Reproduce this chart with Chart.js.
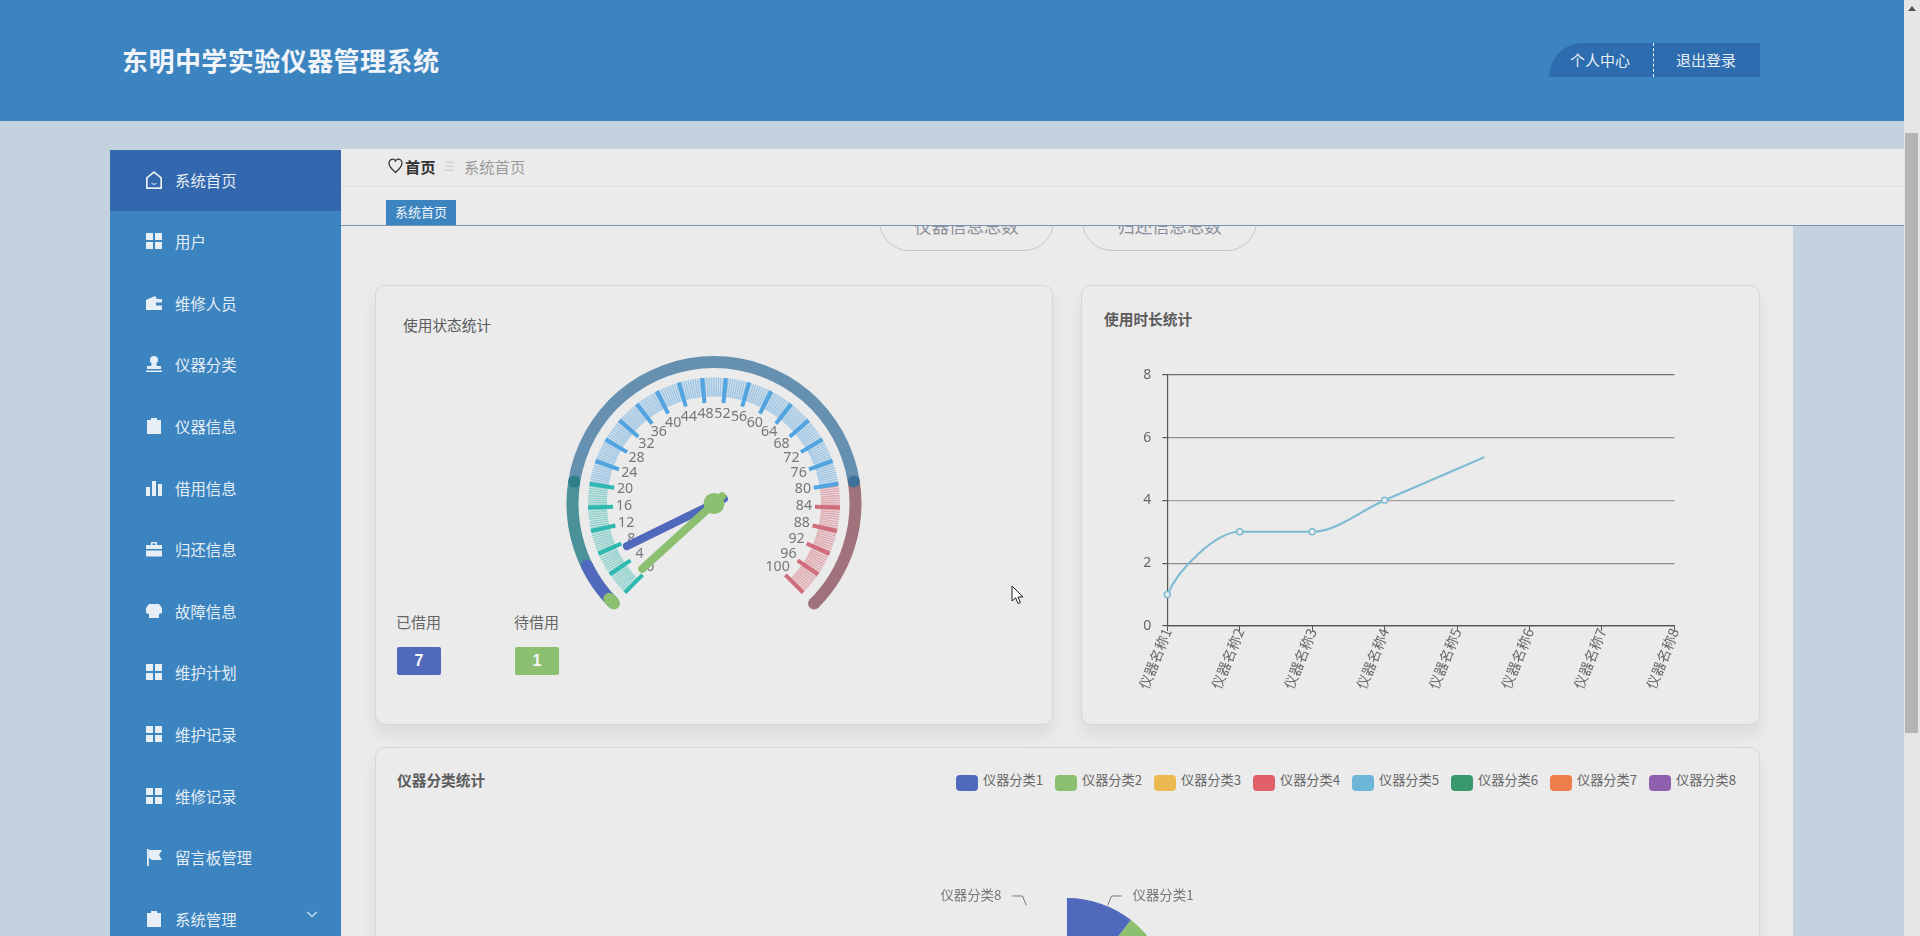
<!DOCTYPE html>
<html lang="zh-CN">
<head>
<meta charset="utf-8">
<title>东明中学实验仪器管理系统</title>
<script src="https://cdn.jsdelivr.net/npm/chart.js@4/dist/chart.umd.js"></script>
<style>
  * { box-sizing: border-box; }
  html, body { margin: 0; height: 100%; }
  body { width: 1920px; height: 936px; overflow: hidden; position: relative; background: #c4d2e0; font-family: "Noto Sans CJK SC", "Noto Sans", sans-serif; }
  .abs { position: absolute; }
  #header { left: 0; top: 0; width: 1904px; height: 121px; background: #3b84c0; }
  #siteTitle { left: 122px; top: 39px; line-height: 42px; font-size: 26px; font-weight: 700; letter-spacing: .45px; color: #f1f5f9; white-space: nowrap; }
  #userBar { left: 1549px; top: 43px; width: 211px; height: 34px; background: #2d6cae; border-top-left-radius: 34px; color: #e8f0f7; font-size: 15px; line-height: 34px; }
  #userBar span { position: absolute; top: 0; white-space: nowrap; }
  #userBar i { position: absolute; left: 104px; top: 0; height: 34px; border-left: 1px dashed #eef4fa; }
  #sidebar { left: 110px; top: 150px; width: 231px; height: 786px; background: #3b84c0; overflow: hidden; }
  .menuItem { position: absolute; left: 0; width: 231px; height: 61px; color: #e4edf5; font-size: 15.4px; line-height: 61px; }
  .menuItem.active { background: #3367ae; }
  .menuItem span { position: absolute; left: 65px; top: 0; white-space: nowrap; }
  .menuItem svg { position: absolute; left: 35px; top: 21px; width: 18px; height: 18px; fill: #e8eef5; }
  #topPanel { left: 341px; top: 149px; width: 1563px; height: 77px; background: #ebebeb; border-bottom: 1px solid #7a93b5; }
  #crumbLine { left: 0; top: 37px; width: 100%; border-top: 1px solid #dfdfdf; }
  .crumb { top: 5px; line-height: 24px; font-size: 15.3px; white-space: nowrap; }
  #tabHome { left: 45px; top: 51px; width: 70px; height: 25px; background: #3b84c0; color: #eef4f9; font-size: 13px; line-height: 24px; text-align: center; }
  #mainPanel { left: 341px; top: 226px; width: 1452px; height: 710px; background: #ebebeb; overflow: hidden; }
  .pill { top: -36px; width: 175px; height: 61px; border: 1.5px solid #c4c8cc; border-radius: 30px; color: #8a909a; font-size: 17.4px; line-height: 0; padding-top: 35px; text-align: center; white-space: nowrap; }
  .card { background: #ebebeb; border: 1px solid #d6d6d6; border-radius: 10px; box-shadow: 0 10px 16px rgba(0, 0, 0, .07); }
  .cardTitle { font-size: 14.7px; line-height: 20px; color: #5c5c5c; white-space: nowrap; }
  .statName { font-size: 15px; line-height: 20px; color: #666; white-space: nowrap; }
  .statBox { width: 44px; height: 28px; border-radius: 2px; color: #f4f6f8; font: 700 16px/27px "Liberation Sans", sans-serif; text-align: center; }
  .legendSwatch { top: 775px; width: 22px; height: 16px; border-radius: 4px; }
  .legendText { top: 770px; font-size: 13.2px; line-height: 20px; color: #666; white-space: nowrap; }
  canvas { position: absolute; display: block; }
  #scrollTrack { left: 1904px; top: 0; width: 16px; height: 936px; background: #e6e6e6; }
  #scrollThumb { left: 1905px; top: 133px; width: 13px; height: 600px; background: #b4b4b4; }
  #scrollArrow { left: 1908px; top: 6px; width: 0; height: 0; border: 4px solid transparent; border-bottom: 5px solid #555; border-top: 0; }
</style>
</head>
<body>
<div id="header" class="abs"></div>
<div id="siteTitle" class="abs">东明中学实验仪器管理系统</div>
<div id="userBar" class="abs"><span style="left:21px">个人中心</span><i></i><span style="left:127px">退出登录</span></div>

<div id="sidebar" class="abs"></div>

<div id="topPanel" class="abs">
  <div id="crumbLine" class="abs"></div>
  <svg class="abs" style="left:47px;top:9px" width="15" height="16" viewBox="0 0 15 16"><path d="M7.5 14.5 C3 10.5 1 8 1 5.2 C1 2.8 3 1.2 4.8 1.2 C6 1.2 7 1.9 7.5 3 C8 1.9 9 1.2 10.2 1.2 C12 1.2 14 2.8 14 5.2 C14 8 12 10.5 7.5 14.5 Z" fill="none" stroke="#333" stroke-width="1.3"/></svg>
  <div class="crumb abs" style="left:64px;color:#333;font-weight:700">首页</div>
  <div class="crumb abs" style="left:103px;color:#d0d0d0;font-size:12px">☰</div>
  <div class="crumb abs" style="left:123px;color:#9a9a9a">系统首页</div>
  <div id="tabHome" class="abs">系统首页</div>
</div>

<div id="mainPanel" class="abs">
  <div class="pill abs" style="left:538px">仪器信息总数</div>
  <div class="pill abs" style="left:741px">归还信息总数</div>
</div>

<div class="card abs" style="left:375px;top:285px;width:678px;height:440px"></div>
<div class="card abs" style="left:1081px;top:285px;width:679px;height:440px"></div>
<div class="card abs" style="left:375px;top:747px;width:1385px;height:240px"></div>

<div class="cardTitle abs" style="left:403px;top:315px">使用状态统计</div>
<div class="cardTitle abs" style="left:1104px;top:309px;font-weight:700">使用时长统计</div>
<div class="cardTitle abs" style="left:397px;top:770px;font-weight:700">仪器分类统计</div>

<div id="gaugeStats"></div>
<div id="pieLegend"></div>

<canvas id="gaugeChart" width="300" height="260" style="left:564px;top:352px;width:300px;height:260px"></canvas>
<canvas id="lineChart" width="610" height="380" style="left:1090px;top:340px;width:610px;height:380px"></canvas>
<canvas id="pieChart" width="400" height="400" style="left:867px;top:802px;width:400px;height:400px"></canvas>

<svg class="abs" style="left:1011px;top:585px" width="14" height="21" viewBox="0 0 14 21"><path d="M1 1 L1 16 L4.6 12.8 L7 18.5 L9.4 17.5 L7 12 L12 12 Z" fill="#fff" stroke="#222" stroke-width="1"/></svg>

<div id="scrollTrack" class="abs"></div>
<div id="scrollThumb" class="abs"></div>
<div id="scrollArrow" class="abs"></div>

<script>
const menuLabels = ["系统首页", "用户", "维修人员", "仪器分类", "仪器信息", "借用信息", "归还信息", "故障信息", "维护计划", "维护记录", "维修记录", "留言板管理", "系统管理"];
const menuIcons = ["home", "grid", "wallet", "stamp", "clip", "bars", "case", "print", "grid", "grid", "grid", "flag", "clip"];

// 仪表盘
const gaugeNames = ["已借用", "待借用"];
const gaugeValues = [7, 1];
const gaugeColors = ["#5169bd", "#8cc070"];
const gaugeTicks = [0, 4, 8, 12, 16, 20, 24, 28, 32, 36, 40, 44, 48, 52, 56, 60, 64, 68, 72, 76, 80, 84, 88, 92, 96, 100];
const gaugeBands = [20, 60, 20];
const gaugeBandColors = ["#4a9199", "#6690b0", "#a0737c"];

// 折线图
const lineLabels = ["仪器名称1", "仪器名称2", "仪器名称3", "仪器名称4", "仪器名称5", "仪器名称6", "仪器名称7", "仪器名称8"];
const lineValues = [1, 3, 3, 4, 5, 6];
const lineTicks = [0, 2, 4, 6, 8];

// 饼图
const pieLabels = ["仪器分类1", "仪器分类2", "仪器分类3", "仪器分类4", "仪器分类5", "仪器分类6", "仪器分类7", "仪器分类8"];
const pieValues = [38, 42, 48, 44, 46, 46, 39, 57];
const pieColors = ["#5169bd", "#8cc070", "#ecb950", "#e2606a", "#6db6d8", "#389a6c", "#ef7d4c", "#9060b0"];

const ICONS = {
  home: '<path d="M9 0 L17 6.500 V18 H1 V6.500 Z M2.700 7.300 V16.300 H15.300 V7.300 L9 2.200 Z M6.500 11.500 Q9 14 11.500 11.500 L11.500 12.500 Q9 15 6.500 12.500 Z"/>',
  grid: '<rect x="1" y="1" width="7" height="7"/><rect x="10" y="1" width="7" height="7"/><rect x="1" y="10" width="7" height="7"/><rect x="10" y="10" width="7" height="7"/>',
  wallet: '<path d="M1 6 L10 2 L12 5 H17 V16 H1 Z M11 8.500 V11.500 H17 V8.500 Z"/>',
  stamp: '<circle cx="9" cy="5" r="4"/><path d="M7 8 H11 L12 11 H16 V14 H2 V11 H6 Z"/><rect x="1" y="15.500" width="16" height="1.500"/>',
  clip: '<path d="M6 1 H12 V3 H16 V17 H2 V3 H6 Z"/>',
  bars: '<rect x="1" y="8" width="4" height="9"/><rect x="7" y="2" width="4" height="15"/><rect x="13" y="5" width="4" height="12"/>',
  case: '<path d="M6 2 H12 V5 H17 V9 H1 V5 H6 Z M7.500 3.500 V5 H10.500 V3.500 Z"/><rect x="1" y="10.500" width="16" height="6"/>',
  print: '<path d="M4 2 H14 L17 6 V11 L14 12 V16 H4 V12 L1 11 V6 Z"/>',
  flag: '<rect x="2" y="1" width="1.800" height="17"/><path d="M4 2 H17 L14 7 L17 12 H7 L4 10 Z"/>'
};

function renderMenu() {
  const sidebar = document.getElementById("sidebar");
  menuLabels.forEach((label, i) => {
    const item = document.createElement("div");
    item.className = "menuItem" + (i === 0 ? " active" : "");
    item.style.top = (i * 61.6 - 0.5) + "px";
    item.innerHTML = `<svg viewBox="0 0 18 18">${ICONS[menuIcons[i]]}</svg><span>${label}</span>`;
    if (label === "系统管理") {
      item.innerHTML += '<svg viewBox="0 0 18 18" style="left:196px;top:19px;width:12px;height:12px;fill:none;stroke:#cfe0ef;stroke-width:2"><path d="M2 6 L9 13 L16 6"/></svg>';
    }
    sidebar.appendChild(item);
  });
}

function renderGaugeStats() {
  const box = document.getElementById("gaugeStats");
  gaugeNames.forEach((name, i) => {
    const left = 396 + i * 118;
    box.innerHTML += `<div class="statName abs" style="left:${left}px;top:612px">${name}</div>`;
    box.innerHTML += `<div class="statBox abs" style="left:${left + 1}px;top:647px;background:${gaugeColors[i]}">${gaugeValues[i]}</div>`;
  });
}

function renderPieLegend() {
  const box = document.getElementById("pieLegend");
  pieLabels.forEach((label, i) => {
    const left = 956 + i * 99;
    box.innerHTML += `<div class="legendSwatch abs" style="left:${left}px;background:${pieColors[i]}"></div>`;
    box.innerHTML += `<div class="legendText abs" style="left:${left + 27}px">${label}</div>`;
  });
}

// 每个环自己决定内外半径，这样外圈和进度条可以叠在一起
class GaugeRingController extends Chart.DoughnutController {
  updateElements(arcs, start, count, mode) {
    const ds = this.getDataset();
    this.outerRadius = ds.outer;
    this.innerRadius = ds.inner;
    super.updateElements(arcs, start, count, mode);
  }
}
GaugeRingController.id = "gaugeRing";
GaugeRingController.defaults = Chart.DoughnutController.defaults;
GaugeRingController.overrides = Chart.DoughnutController.overrides;
Chart.register(GaugeRingController);

// 圆头：画在 arc 的两端，ring.caps 里写每段首尾的颜色
const ringCaps = {
  id: "ringCaps",
  afterDatasetDraw(chart, args) {
    const caps = chart.data.datasets[args.index].caps;
    if (!caps) return;
    const ctx = chart.ctx;
    args.meta.data.forEach((arc, i) => {
      if (!caps[i]) return;
      const r = (arc.outerRadius + arc.innerRadius) / 2;
      const size = (arc.outerRadius - arc.innerRadius) / 2;
      [arc.startAngle, arc.endAngle].forEach((a, k) => {
        if (!caps[i][k]) return;
        ctx.fillStyle = caps[i][k];
        ctx.beginPath();
        ctx.arc(arc.x + Math.cos(a) * r, arc.y + Math.sin(a) * r, size, 0, Math.PI * 2);
        ctx.fill();
      });
    });
  }
};

// 刻度、刻度文字和指针，角度都从外圈 arc 读出
const gaugeAxis = {
  id: "gaugeAxis",
  afterDatasetsDraw(chart) {
    const ctx = chart.ctx;
    const ring = chart.getDatasetMeta(2).data;
    const cx = ring[0].x;
    const cy = ring[0].y;
    const a0 = ring[0].startAngle;
    const a1 = ring[2].endAngle;
    const angleOf = v => a0 + (a1 - a0) * v / 100;
    const tone = (v, c) => (v <= 20 ? c[0] : v <= 80 ? c[1] : c[2]);
    const spoke = (a, r0, r1) => {
      ctx.beginPath();
      ctx.moveTo(cx + Math.cos(a) * r0, cy + Math.sin(a) * r0);
      ctx.lineTo(cx + Math.cos(a) * r1, cy + Math.sin(a) * r1);
      ctx.stroke();
    };

    ctx.save();
    ctx.lineWidth = 1.6;
    for (let v = 0; v <= 100; v += 0.4) {
      ctx.strokeStyle = tone(v, ["rgba(58,186,178,.5)", "rgba(86,163,224,.5)", "rgba(214,110,124,.5)"]);
      spoke(angleOf(v), 107, 126);
    }
    ctx.lineWidth = 4;
    gaugeTicks.forEach(v => {
      ctx.strokeStyle = tone(v, ["#2fb8b0", "#52a4e0", "#cf6d7c"]);
      spoke(angleOf(v), 101, 126);
    });

    ctx.fillStyle = "#777";
    ctx.font = '14.2px "Noto Sans", sans-serif';
    ctx.textAlign = "center";
    ctx.textBaseline = "middle";
    gaugeTicks.forEach(v => {
      const a = angleOf(v);
      ctx.fillText(String(v), cx + Math.cos(a) * 90, cy + Math.sin(a) * 90);
    });

    ctx.lineCap = "round";
    ctx.lineWidth = 8;
    gaugeValues.forEach((v, i) => {
      const a = angleOf(v);
      ctx.strokeStyle = gaugeColors[i];
      spoke(a, -11, 97);
    });
    ctx.fillStyle = gaugeColors[1];
    ctx.beginPath();
    ctx.arc(cx, cy, 10.5, 0, Math.PI * 2);
    ctx.fill();
    ctx.restore();
  }
};

function renderGauge() {
  const progress = (i) => ({
    data: [gaugeValues[i], 100 - gaugeValues[i]],
    backgroundColor: [gaugeColors[i], "rgba(0,0,0,0)"],
    caps: [[i === 1 ? gaugeColors[i] : null, gaugeColors[i]], null],
    outer: 147.5,
    inner: 135.5,
    borderWidth: 0
  });

  new Chart(document.getElementById("gaugeChart"), {
    type: "gaugeRing",
    data: {
      labels: gaugeNames,
      datasets: [
        progress(1),
        progress(0),
        {
          data: gaugeBands,
          backgroundColor: gaugeBandColors,
          caps: [[null, "#2f7d86"], [null, "#3f709a"], [null, gaugeBandColors[2]]],
          outer: 147.5,
          inner: 135.5,
          borderWidth: 0
        }
      ]
    },
    options: {
      responsive: false,
      animation: false,
      rotation: -135,
      circumference: 270,
      cutout: 0,
      radius: 147,
      plugins: { legend: { display: false }, tooltip: { enabled: false } }
    },
    plugins: [ringCaps, gaugeAxis]
  });
}

// 第一段曲线起步更陡，和原图的平滑方式一致
const steepStart = {
  id: "steepStart",
  beforeDatasetDraw(chart, args) {
    const line = args.meta.dataset;
    line.updateControlPoints(chart.chartArea, "x");
    const [p0, p1] = args.meta.data;
    p0.cp2x = p0.x + (p1.x - p0.x) * 0.15;
    p0.cp2y = p0.y + (p1.y - p0.y) * 0.4;
  }
};

function renderLine() {
  const gridTones = ["#555", "#8c8c8c", "#a0a0a0", "#8c8c8c", "#6e6e6e"];
  new Chart(document.getElementById("lineChart"), {
    type: "line",
    data: {
      labels: lineLabels,
      datasets: [{
        data: lineValues,
        borderColor: "#7dbcd3",
        borderWidth: 2.2,
        cubicInterpolationMode: "monotone",
        pointRadius: [3, 3, 3, 3, 0, 0],
        pointBorderWidth: 1.5,
        pointBackgroundColor: "#ebebeb",
        pointBorderColor: "#7dbcd3",
        // 截图时动画还没走完，线只画到第 5、6 个点之间
        clip: { left: 6, top: 6, bottom: 6, right: -190 }
      }]
    },
    options: {
      responsive: false,
      animation: false,
      layout: { padding: { top: 34.7, right: 25.6, left: 0, bottom: 0 } },
      plugins: { legend: { display: false }, tooltip: { enabled: false } },
      scales: {
        x: {
          afterFit(scale) { scale.height = 94; scale.paddingLeft = 0; scale.paddingRight = 0; },
          grid: { drawOnChartArea: false, tickLength: 5, tickColor: "#555" },
          border: { color: "#555", width: 1.2 },
          ticks: { autoSkip: false, minRotation: 68, maxRotation: 68, padding: -5, color: "#6a6a6a", font: { size: 14, family: '"Noto Sans CJK SC"' } }
        },
        y: {
          min: lineTicks[0],
          max: lineTicks[lineTicks.length - 1],
          afterFit(scale) { scale.width = 77.3; scale.paddingTop = 0; scale.paddingBottom = 0; },
          afterBuildTicks(scale) { scale.ticks = lineTicks.map(v => ({ value: v })); },
          grid: { color: ctx => gridTones[ctx.index], lineWidth: 1.2, tickLength: 5, tickColor: "#555" },
          border: { color: "#555", width: 1.2 },
          ticks: { padding: 11, color: "#666", font: { size: 14, family: '"Noto Sans"' } }
        }
      }
    },
    plugins: [steepStart]
  });
}

// 饼图的文字和引导线，位置从 arc 读出
const pieLeaders = {
  id: "pieLeaders",
  afterDraw(chart) {
    const ctx = chart.ctx;
    ctx.save();
    ctx.lineWidth = 1;
    ctx.strokeStyle = "#777";
    ctx.fillStyle = "#777";
    ctx.font = '13.4px "Noto Sans CJK SC"';
    ctx.textBaseline = "middle";
    chart.getDatasetMeta(0).data.forEach((arc, i) => {
      const a = arc.startAngle + (arc.endAngle - arc.startAngle) * 0.6;
      const side = Math.cos(a) >= 0 ? 1 : -1;
      const x0 = arc.x + Math.cos(a) * (arc.outerRadius + 1);
      const y0 = arc.y + Math.sin(a) * (arc.outerRadius + 1);
      const x1 = x0 + Math.cos(a) * 10;
      const y1 = y0 + Math.sin(a) * 10;
      ctx.beginPath();
      ctx.moveTo(x0, y0);
      ctx.lineTo(x1, y1);
      ctx.lineTo(x1 + side * 10, y1);
      ctx.stroke();
      ctx.textAlign = side > 0 ? "left" : "right";
      ctx.fillText(pieLabels[i], x1 + side * 21, y1 - 1);
    });
    ctx.restore();
  }
};

function renderPie() {
  new Chart(document.getElementById("pieChart"), {
    type: "pie",
    data: {
      labels: pieLabels,
      datasets: [{
        data: pieValues,
        backgroundColor: pieColors,
        borderWidth: 0,
        // 同样是动画中途：左半边还没有扫出来
        clip: { left: -200, top: 0, right: 0, bottom: 0 }
      }]
    },
    options: {
      responsive: false,
      animation: false,
      radius: 104,
      plugins: { legend: { display: false }, tooltip: { enabled: false } }
    },
    plugins: [pieLeaders]
  });
}

renderMenu();
renderGaugeStats();
renderPieLegend();
renderGauge();
renderLine();
renderPie();
</script>
</body>
</html>
